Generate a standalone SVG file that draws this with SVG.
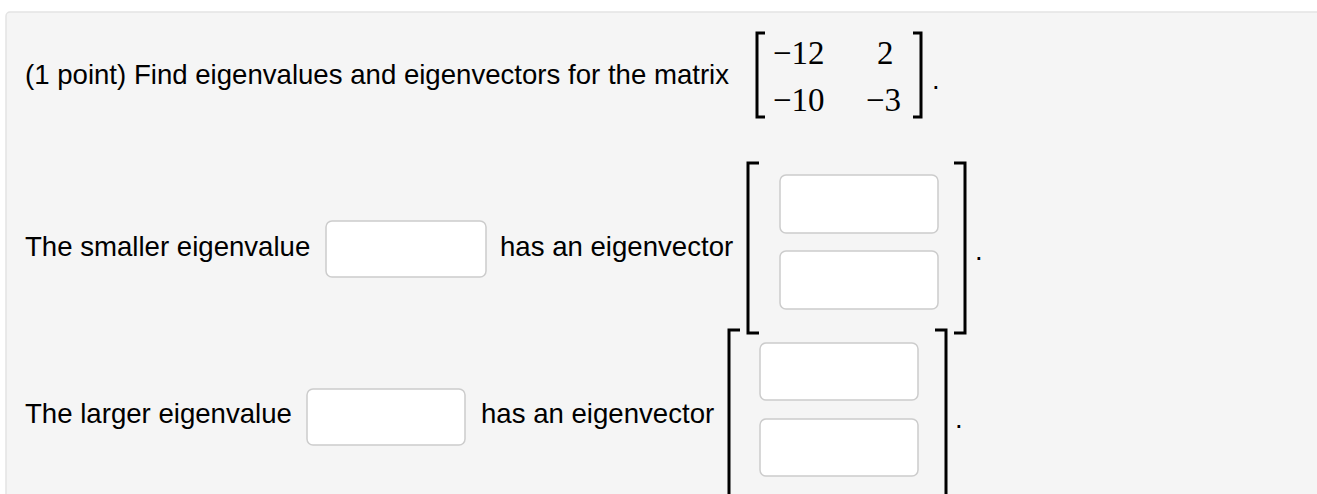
<svg xmlns="http://www.w3.org/2000/svg" width="1317" height="494" viewBox="0 0 1317 494">
<style>
.t{font-family:"Liberation Sans",Arial,sans-serif;font-size:27.6px;fill:#000}
.m{font-family:"Liberation Serif","Times New Roman",serif;font-size:33px;fill:#000}
.in{fill:#fff;stroke:#cccccc;stroke-width:1.5}
.br{fill:none;stroke:#000;stroke-width:3}
</style>
<rect width="1317" height="494" fill="#fff"/>
<rect x="6" y="12" width="1320" height="500" rx="4" fill="#f5f5f5" stroke="#e3e3e3" stroke-width="1.5"/>
<g id="question">
<text class="t" x="25" y="84">(1 point) Find eigenvalues and eigenvectors for the matrix</text>
<path class="br" d="M765,33 H757 V117 H765"/>
<text class="m" x="773" y="64">−12</text>
<text class="m" x="877" y="64">2</text>
<text class="m" x="773" y="111">−10</text>
<text class="m" x="866" y="111">−3</text>
<path class="br" d="M913,33 H921 V117 H913"/>
<text class="t" x="932" y="89">.</text>
</g>
<g id="row1">
<text class="t" x="25" y="256">The smaller eigenvalue</text>
<rect class="in" x="326" y="221" width="160" height="56" rx="6"/>
<text class="t" x="500" y="256">has an eigenvector</text>
<path class="br" d="M759,163 H748 V333 H759"/>
<rect class="in" x="780" y="175" width="158" height="58" rx="6"/>
<rect class="in" x="780" y="251" width="158" height="58" rx="6"/>
<path class="br" d="M954,163 H965 V333 H954"/>
<text class="t" x="975" y="260">.</text>
</g>
<g id="row2">
<text class="t" x="25" y="423">The larger eigenvalue</text>
<rect class="in" x="307" y="389" width="158" height="56" rx="6"/>
<text class="t" x="481" y="423">has an eigenvector</text>
<path class="br" d="M740,330 H729 V500"/>
<rect class="in" x="760" y="343" width="158" height="57" rx="6"/>
<rect class="in" x="760" y="419" width="158" height="57" rx="6"/>
<path class="br" d="M935,330 H946 V500"/>
<text class="t" x="955" y="428">.</text>
</g>
</svg>
